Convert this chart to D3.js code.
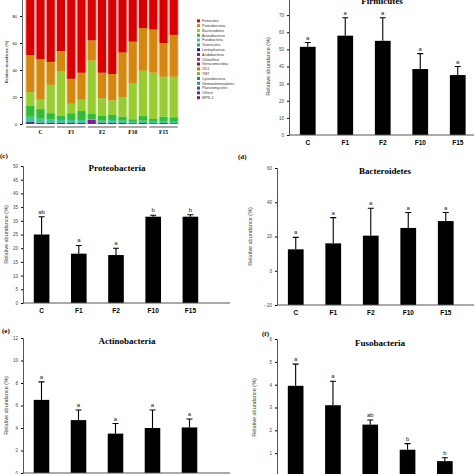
<!DOCTYPE html>
<html><head><meta charset="utf-8">
<script src="https://cdn.jsdelivr.net/npm/d3@7"></script>
<style>body{margin:0;background:#fff}svg{display:block}</style>
</head><body><svg id="fig" width="474" height="474"></svg>
<script>
const groups = ['C', 'F1', 'F2', 'F10', 'F15'];

// panel (a): 15 samples, cumulative tops
const samples = d3.range(15);
const protTop = [51, 48, 46, 54, 33.5, 38, 62, 38, 37, 53, 61, 71, 70, 60, 66];
const bactTop = [23.5, 18, 29, 39, 15, 18, 47, 19, 17.5, 20, 30, 39.5, 38, 35, 35];
const actiTop = [13.3, 11, 8, 6, 8, 9.6, 7.4, 6, 6.7, 5.4, 3.5, 6, 3.7, 5.4, 5];
const fusoTop = [5.4, 4, 3.5, 3, 3, 3, 3.5, 2.5, 3, 2.5, 1.7, 2.5, 1.7, 2, 1.7];
const minor = [1.5, 1, 1, 1, 1, 1, 3, 1, 1, 0.8, 0.6, 0.8, 0.6, 0.7, 0.6];
const phyla = ['Firmicutes', 'Proteobacteria', 'Bacteroidetes', 'Actinobacteria', 'Fusobacteria',
    'Tenericutes', 'Lentisphaerae', 'Acidobacteria', 'Chloroflexi', 'Verrucomicrobia', 'OD1', 'TM7',
    'Cyanobacteria', 'Gemmatimonadetes', 'Planctomycetes', 'Others', 'WPS-2'];
const phylaColors = ['#d80000', '#d4880f', '#99cc33', '#33bb33', '#33cc99', '#1e9ec0', '#1a1aa0',
    '#7a1fa0', '#b02090', '#8b1a3a', '#cc7a00', '#88aa22', '#229933', '#20a080', '#2060a0', '#404090', '#802080'];

// panels (b)-(f)
const firmMean = [51.5, 58, 55, 38.5, 35], firmErr = [2.5, 10.5, 13.5, 9, 5];
const protMean = [25, 18, 17.5, 31.5, 31.5], protErr = [6.5, 3, 2.5, 0.5, 0.7];
const bacMean = [12.5, 16, 20.5, 25, 29], bacErr = [7, 15, 16, 9, 5];
const actMean = [6.5, 4.7, 3.5, 4, 4.05], actErr = [1.6, 0.9, 0.9, 1.6, 0.75];
const fusMean = [3.95, 3.1, 2.25, 1.15, 0.65], fusErr = [0.95, 1.05, 0.2, 0.27, 0.15];
const firmSig = ['a', 'a', 'a', 'a', 'a'], protSig = ['ab', 'a', 'a', 'b', 'b'];
const bacSig = ['a', 'a', 'a', 'a', 'a'], actSig = ['a', 'a', 'a', 'a', 'a'];
const fusSig = ['a', 'a', 'ab', 'b', 'b'];

const svg = d3.select('#fig');

// ---------- panel (a) ----------
function stackedPanel() {
    const g = svg.append('g');
    const x = d3.scaleBand().domain(samples).range([24, 180]).padding(0.22);
    const y = d3.scaleLinear().domain([0, 100]).range([124, -11]);
    const rows = samples.map(i => {
        const m = minor[i];
        return [
            [0, m, 15], [m, fusoTop[i], 4], [fusoTop[i], actiTop[i], 3],
            [actiTop[i], bactTop[i], 2], [bactTop[i], protTop[i], 1], [protTop[i], 100, 0]
        ].map(s => ({i, y0: s[0], y1: s[1], c: i === 6 && s[2] === 15 ? phylaColors[7] : phylaColors[s[2]]}));
    }).flat();
    // pale band fill between bars
    g.selectAll('.pale').data(rows).join('rect')
        .attr('x', d => x(d.i) - x.step() * x.padding() / 2)
        .attr('width', x.step())
        .attr('y', d => y(d.y1)).attr('height', d => y(d.y0) - y(d.y1))
        .attr('fill', d => d.c).attr('opacity', 0.3);
    g.selectAll('.seg').data(rows).join('rect')
        .attr('x', d => x(d.i)).attr('width', x.bandwidth())
        .attr('y', d => y(d.y1)).attr('height', d => y(d.y0) - y(d.y1))
        .attr('fill', d => d.c);
    const ax = g.append('g').attr('transform', 'translate(22,0)')
        .call(d3.axisLeft(y).tickValues([0, 20, 40, 60, 80]).tickSize(2));
    ax.select('.domain').attr('stroke', '#666');
    ax.selectAll('text').attr('font-size', 4).attr('font-family', 'Arial');
    g.append('text').attr('transform', 'translate(8,62) rotate(-90)').attr('text-anchor', 'middle')
        .attr('font-size', 4).attr('font-family', 'Arial').text('Relative abundance (%)');
    groups.forEach((gr, k) => {
        const x0 = x(k * 3), x1 = x(k * 3 + 2) + x.bandwidth();
        g.append('line').attr('x1', x0).attr('x2', x1).attr('y1', 127).attr('y2', 127).attr('stroke', '#555');
        g.append('text').attr('x', (x0 + x1) / 2).attr('y', 134).attr('text-anchor', 'middle')
            .attr('font-size', 5.5).attr('font-weight', 'bold').attr('font-family', 'Liberation Serif').text(gr);
    });
    const leg = g.append('g').attr('transform', 'translate(197,21)');
    phyla.forEach((p, k) => {
        leg.append('rect').attr('x', 0).attr('y', k * 4.8 - 1.6).attr('width', 3).attr('height', 3).attr('fill', phylaColors[k]);
        leg.append('text').attr('x', 5).attr('y', k * 4.8 + 1.2).attr('font-size', 3.6)
            .attr('font-family', 'Arial').attr('fill', '#333').text(p);
    });
}

// ---------- bar panels ----------
function barPanel(o) {
    const g = svg.append('g');
    const x = d3.scaleBand().domain(groups).range([o.x0, o.x0 + o.step * 5]).paddingInner(0.58).paddingOuter(0.29);
    const y = d3.scaleLinear().domain(o.domain).range([o.base, o.top]);
    g.selectAll('.bar').data(o.mean).join('rect')
        .attr('x', (d, i) => x(groups[i])).attr('width', x.bandwidth())
        .attr('y', d => y(d)).attr('height', d => o.base - y(d)).attr('fill', '#000');
    g.selectAll('.err').data(o.mean).join('path')
        .attr('d', (d, i) => {
            const cx = x(groups[i]) + x.bandwidth() / 2, yt = y(d + o.err[i]);
            return `M${cx},${y(d)}V${yt}M${cx - 3},${yt}H${cx + 3}`;
        }).attr('stroke', '#000').attr('stroke-width', 1.1);
    g.selectAll('.sig').data(o.mean).join('text')
        .attr('x', (d, i) => x(groups[i]) + x.bandwidth() / 2)
        .attr('y', (d, i) => y(d + o.err[i]) - 3).attr('text-anchor', 'middle')
        .attr('font-size', 6).attr('font-family', 'Arial').attr('fill', '#222').text((d, i) => o.sig[i]);
    const ay = g.append('g').attr('transform', `translate(${o.x0},0)`)
        .call(d3.axisLeft(y).tickValues(o.ticks).tickFormat(d3.format('~g')).tickSize(2));
    ay.selectAll('text').attr('font-size', 4.5).attr('font-family', 'Arial').attr('fill', '#444');
    ay.select('.domain').attr('stroke', '#555');
    const ax = g.append('g').attr('transform', `translate(0,${o.base})`)
        .call(d3.axisBottom(x).tickSize(0).tickPadding(5));
    ax.select('.domain').attr('d', `M${o.x0},0H${o.xEnd}`).attr('stroke', '#555');
    ax.selectAll('text').attr('font-size', 6.5).attr('font-weight', 'bold').attr('font-family', 'Arial').attr('fill', '#000');
    g.append('text').attr('transform', `translate(${o.labX},${(o.base + o.top) / 2}) rotate(-90)`)
        .attr('text-anchor', 'middle').attr('font-size', 5.5).attr('font-family', 'Arial').attr('fill', '#444')
        .text('Relative abundance (%)');
    g.append('text').attr('x', o.titleX).attr('y', o.titleY).attr('text-anchor', 'middle')
        .attr('font-size', 9).attr('font-weight', 'bold').attr('font-family', 'Liberation Serif').text(o.title);
    if (o.tag) g.append('text').attr('x', o.tag[0]).attr('y', o.tag[1]).attr('font-size', 7)
        .attr('font-weight', 'bold').attr('font-family', 'Liberation Serif').text(o.tag[2]);
}

stackedPanel();
barPanel({x0: 289, step: 37.5, xEnd: 474, base: 135, top: -2, domain: [0, 80], ticks: d3.range(0, 80, 10),
    mean: firmMean, err: firmErr, sig: firmSig, title: 'Firmicutes', titleX: 382, titleY: 4, labX: 270,
    tag: [238, 159, '(d)']});
barPanel({x0: 23, step: 37.2, xEnd: 230, base: 303, top: 166, domain: [0, 50], ticks: d3.range(0, 51, 5),
    mean: protMean, err: protErr, sig: protSig, title: 'Proteobacteria', titleX: 117, titleY: 171, labX: 8,
    tag: [0, 158, '(c)']});
barPanel({x0: 277, step: 37.5, xEnd: 474, base: 305, top: 168, domain: [-20, 60], ticks: [-20, 0, 20, 40, 60],
    mean: bacMean, err: bacErr, sig: bacSig, title: 'Bacteroidetes', titleX: 385, titleY: 174, labX: 252});
barPanel({x0: 23, step: 37, xEnd: 230, base: 473, top: 338, domain: [0, 12], ticks: [0, 2, 4, 6, 8, 10, 12],
    mean: actMean, err: actErr, sig: actSig, title: 'Actinobacteria', titleX: 127, titleY: 344, labX: 8,
    tag: [2, 333, '(e)']});
barPanel({x0: 277, step: 37.3, xEnd: 474, base: 476, top: 339, domain: [0, 6], ticks: [0, 1, 2, 3, 4, 5, 6],
    mean: fusMean, err: fusErr, sig: fusSig, title: 'Fusobacteria', titleX: 380, titleY: 346, labX: 256,
    tag: [262, 336, '(f)']});
</script></body></html>
